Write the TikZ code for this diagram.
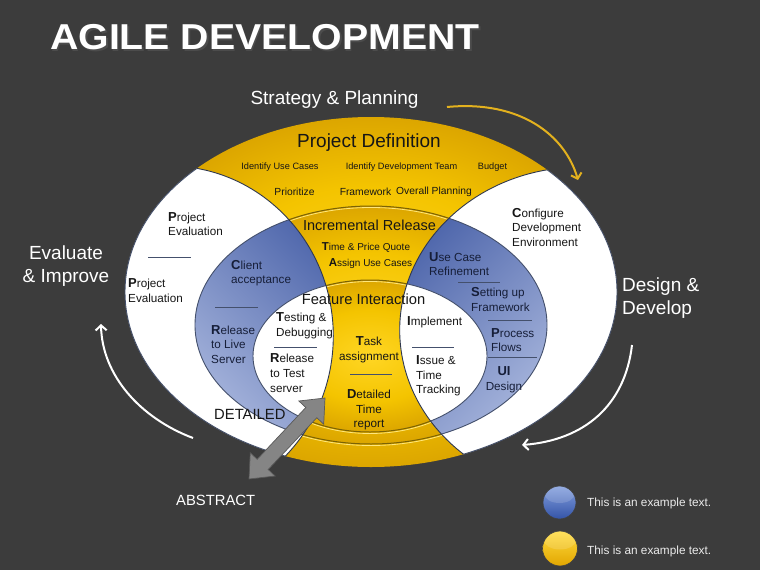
\documentclass[tikz,border=0pt]{standalone}
\usepackage{fontspec}
\setmainfont{Liberation Sans}
\usetikzlibrary{arrows.meta}
\definecolor{bg}{HTML}{3C3C3C}
\definecolor{ylw}{HTML}{F4C400}
\definecolor{ylwd}{HTML}{DCA600}
\definecolor{ylwl}{HTML}{FFD624}
\definecolor{bluD}{HTML}{4C64AA}
\definecolor{bluL}{HTML}{AAB8DE}
\definecolor{edge}{HTML}{44506C}
\definecolor{arcln}{HTML}{7A6205}
\definecolor{txt}{HTML}{161616}
\definecolor{txtb}{HTML}{161E38}
\definecolor{gold}{HTML}{E3B11E}
\definecolor{ballBt}{HTML}{84A0DE}
\definecolor{ballBb}{HTML}{3454A8}
\definecolor{ballYt}{HTML}{FFDC40}
\definecolor{ballYb}{HTML}{E2A600}
\pgfdeclareradialshading{ylwsh}{\pgfpoint{0bp}{0bp}}{color(0bp)=(ylwl); color(15bp)=(ylw); color(25bp)=(ylwd); color(50bp)=(ylwd)}
\newcommand{\EzeroP}{(371,292) ellipse [x radius=246, y radius=175]}
\newcommand{\EoneP}{(371,325) ellipse [x radius=176, y radius=119]}
\newcommand{\EtwoP}{(370,356) ellipse [x radius=117, y radius=76]}
\newcommand{\LLp}{(169.3,336) ellipse [x radius=164, y radius=170]}
\newcommand{\RRp}{(580.7,330) ellipse [x radius=181, y radius=163]}
\newcommand{\firstL}[1]{{\fontsize{13}{14.6}\selectfont\bfseries #1}}
\tikzset{
 lbl/.style={font=\fontsize{11.7}{14.6}\selectfont, text=txt, align=left, anchor=west, inner sep=0pt},
 lblb/.style={lbl, text=txtb},
 lblc/.style={lbl, align=center, anchor=center},
 big/.style={font=\fontsize{19}{23}\selectfont, text=white, inner sep=0pt},
 band/.style={font=\fontsize{14.5}{17}\selectfont, text=txt, inner sep=0pt},
 small/.style={font=\fontsize{9.2}{11}\selectfont, text=txt, inner sep=0pt},
 mid/.style={font=\fontsize{10.3}{12}\selectfont, text=txt, inner sep=0pt},
 sep/.style={draw=edge, line width=0.8pt},
 fam/.style={draw=edge, line width=0.9pt},
 legtxt/.style={font=\fontsize{11.8}{14}\selectfont, text=white!92!black, anchor=west, inner sep=0pt},
 cyc/.style={white, line width=2pt, -{Straight Barb[length=5pt,width=11pt]}},
}
\begin{document}
\begin{tikzpicture}[x=1pt,y=-1pt]
\useasboundingbox (0,0) rectangle (760,570);
\fill[bg] (0,0) rectangle (760,570);

% yellow tiers
\shade[shading=ylwsh] \EzeroP;
\shade[shading=ylwsh] \EoneP;
\draw[ylwl!60!white, line width=0.8pt] (371,326.5) ellipse [x radius=176, y radius=119];
\draw[arcln, line width=1pt] \EoneP;
\shade[shading=ylwsh] \EtwoP;
\draw[ylwl!60!white, line width=0.8pt] (370,357.5) ellipse [x radius=117, y radius=76];
\draw[arcln, line width=1pt] \EtwoP;

% left family
\begin{scope}
 \clip \LLp;
 \fill[white] \EzeroP;
 \begin{scope}
  \clip \EoneP;
  \shade[top color=bluD, bottom color=bluL, shading angle=-45] (190,200) rectangle (345,450);
 \end{scope}
 \fill[white] \EtwoP;
 \draw[fam] \EzeroP;
 \draw[fam] \EoneP;
 \draw[fam] \EtwoP;
\end{scope}

% right family
\begin{scope}
 \clip \RRp;
 \fill[white] \EzeroP;
 \begin{scope}
  \clip \EoneP;
  \shade[top color=bluD, bottom color=bluL, shading angle=45] (395,200) rectangle (552,450);
 \end{scope}
 \fill[white] \EtwoP;
 \draw[fam] \EzeroP;
 \draw[fam] \EoneP;
 \draw[fam] \EtwoP;
\end{scope}

\begin{scope}
 \clip \EzeroP;
 \draw[edge!70!black, line width=0.9pt] \LLp;
 \draw[edge!70!black, line width=0.9pt] \RRp;
\end{scope}

% title
\node[font=\fontsize{36}{40}\selectfont\bfseries, text=black!70, anchor=west, inner sep=0pt] (titlesh) at (51.5,39) {\scalebox{1.09}[1]{AGILE DEVELOPMENT}};
\node[font=\fontsize{36}{40}\selectfont\bfseries, text=white, anchor=west, inner sep=0pt] (title) at (50,37.5) {\scalebox{1.09}[1]{AGILE DEVELOPMENT}};

% outer labels
\node[big] (strat) at (334.5,100) {Strategy \& Planning};
\node[big, align=center] (evalimp) at (66,266.5) {Evaluate\\\& Improve};
\node[big, align=left, anchor=west] (desdev) at (622,298.5) {Design \&\\Develop};

% yellow band texts
\node[font=\fontsize{19}{22}\selectfont, text=txt, inner sep=0pt] (pdef) at (369,143) {Project Definition};
\node[small] (iuc) at (280,167) {Identify Use Cases};
\node[small] (idt) at (401.5,167) {Identify Development Team};
\node[small] (bud) at (492.5,167) {Budget};
\node[mid] (prio) at (294.5,192) {Prioritize};
\node[mid] (frw) at (365.5,192) {Framework};
\node[mid] (ovp) at (434,192) {Overall Planning};
\node[band] (incr) at (369.5,225) {Incremental Release};
\node[mid, font=\fontsize{10}{12}\selectfont] (tpq) at (366,247) {{\fontsize{11.5}{12}\selectfont\bfseries T}ime \& Price Quote};
\node[mid, font=\fontsize{10}{12}\selectfont] (auc) at (370.5,264) {{\fontsize{11.5}{12}\selectfont\bfseries A}ssign Use Cases};
\node[band, font=\fontsize{14.7}{17}\selectfont] (feat) at (363.5,299) {Feature Interaction};

% left labels
\node[lbl] (pe1) at (168,224) {\firstL{P}roject\\Evaluation};
\node[lbl] (pe2) at (128,290.5) {\firstL{P}roject\\Evaluation};
\node[lblb] (ca) at (231,273) {\firstL{C}lient\\acceptance};
\node[lblb] (rls) at (211,344.5) {\firstL{R}elease\\to Live\\Server};
\node[lbl] (td) at (276,326) {\firstL{T}esting \&\\Debugging};
\node[lbl] (rts) at (270,373) {\firstL{R}elease\\to Test\\server};
\draw[sep] (148,257) -- (191,257);
\draw[sep] (215,307) -- (258,307);
\draw[sep] (274,347) -- (317,347);

% centre labels
\node[lblc] (task) at (369,349.5) {\firstL{T}ask\\assignment};
\node[lblc] (dtr) at (369,410) {\firstL{D}etailed\\Time\\report};
\draw[sep] (350,374) -- (392,374);

% right labels
\node[lbl] (cde) at (512,227.5) {\firstL{C}onfigure\\Development\\Environment};
\node[lblb] (ucr) at (429,264) {\firstL{U}se Case\\Refinement};
\node[lblb] (suf) at (471,299.5) {\firstL{S}etting up\\Framework};
\node[lblb] (pf) at (491,340) {\firstL{P}rocess\\Flows};
\node[lblb, align=center, anchor=center] (uid) at (504,379.5) {\firstL{UI}\\Design};
\node[lbl] (impl) at (407,322) {\firstL{I}mplement};
\node[lbl] (itt) at (416,376) {\firstL{I}ssue \&\\Time\\Tracking};
\draw[sep] (458,282) -- (500,282);
\draw[sep] (488,320) -- (532,320);
\draw[sep] (488,357) -- (537,357);
\draw[sep] (412,347) -- (454,347);

% cycle arrows
\coordinate (ta) at (447,107);
\coordinate (tb) at (578,180);
\draw[gold, line width=2pt, -{Straight Barb[length=5pt,width=11pt]}] (ta) .. controls (520,100) and (565,135) .. (tb);
\coordinate (ra) at (632,345);
\coordinate (rb) at (522,445);
\draw[cyc] (ra) .. controls (625,405) and (585,440) .. (rb);
\coordinate (la) at (193,438);
\coordinate (lb) at (101,324);
\draw[cyc] (la) .. controls (140,418) and (102,375) .. (lb);

% detailed / abstract arrow
\node[font=\fontsize{14.8}{17}\selectfont, text=txt, anchor=west, inner sep=0pt] (detl) at (214,414) {DETAILED};
\node[font=\fontsize{14.8}{17}\selectfont, text=white, anchor=west, inner sep=0pt] (abst) at (176,500) {ABSTRACT};
\filldraw[fill=black!48, draw=black!65, line width=0.7pt, line join=miter]
 (325,398) -- (323.7,424.2) -- (316.8,417.7) -- (268.2,469.5) -- (275.1,476.0) -- (249,479)
 -- (250.3,452.8) -- (257.2,459.3) -- (305.8,407.5) -- (298.9,401.0) -- cycle;

% legend
\shade[top color=ballBt, bottom color=ballBb] (559.5,502.5) circle [radius=16.5];
\begin{scope}
 \clip (559.5,502.5) circle [radius=16.5];
 \fill[white, opacity=0.15] (559.5,494) ellipse [x radius=15, y radius=9];
\end{scope}
\draw[black!75, line width=0.7pt] (559.5,502.5) circle [radius=16.5];
\shade[top color=ballYt, bottom color=ballYb] (560,548.5) circle [radius=17.5];
\begin{scope}
 \clip (560,548.5) circle [radius=17.5];
 \fill[white, opacity=0.15] (560,540) ellipse [x radius=16, y radius=9.5];
\end{scope}
\draw[black!75, line width=0.7pt] (560,548.5) circle [radius=17.5];
\node[legtxt] (lg1) at (587,503) {This is an example text.};
\node[legtxt] (lg2) at (587,551) {This is an example text.};
\end{tikzpicture}
\end{document}
